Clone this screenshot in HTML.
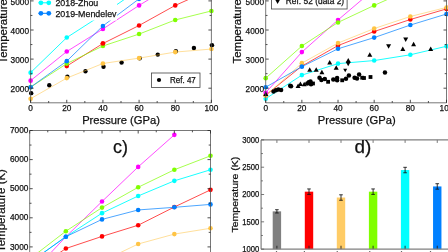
<!DOCTYPE html>
<html><head><meta charset="utf-8"><title>figure</title>
<style>
html,body{margin:0;padding:0;background:#fff;}
body{width:448px;height:252px;overflow:hidden;}
svg{display:block;font-family:"Liberation Sans", sans-serif;fill:#111;}
text{stroke:#111;stroke-width:0.25px;}
</style></head><body>
<svg width="448" height="252" viewBox="0 0 448 252">
<defs>
<clipPath id="clipA"><rect x="0" y="0" width="224" height="103"/></clipPath>
<clipPath id="clipB"><rect x="224" y="0" width="224" height="103"/></clipPath>
<clipPath id="clipC"><rect x="20" y="126" width="204" height="130"/></clipPath>
</defs>
<rect width="448" height="252" fill="#fff"/>
<g clip-path="url(#clipA)">
<circle cx="31.20" cy="93.15" r="2.2" fill="#000"/>
<circle cx="49.28" cy="85.29" r="2.2" fill="#000"/>
<circle cx="67.36" cy="76.71" r="2.2" fill="#000"/>
<circle cx="85.44" cy="71.32" r="2.2" fill="#000"/>
<circle cx="103.52" cy="66.81" r="2.2" fill="#000"/>
<circle cx="121.60" cy="62.59" r="2.2" fill="#000"/>
<circle cx="139.68" cy="58.23" r="2.2" fill="#000"/>
<circle cx="157.76" cy="54.59" r="2.2" fill="#000"/>
<circle cx="175.84" cy="51.24" r="2.2" fill="#000"/>
<circle cx="193.92" cy="48.04" r="2.2" fill="#000"/>
<circle cx="212.00" cy="45.13" r="2.2" fill="#000"/>
<polyline points="30.60,98.68 66.76,78.10 102.92,63.49 139.08,58.11 175.24,52.09 211.40,49.06" fill="none" stroke="#ffc445" stroke-width="0.9" stroke-opacity="0.6"/>
<circle cx="30.60" cy="98.68" r="2.3" fill="#ffc445"/>
<circle cx="66.76" cy="78.10" r="2.3" fill="#ffc445"/>
<circle cx="102.92" cy="63.49" r="2.3" fill="#ffc445"/>
<circle cx="139.08" cy="58.11" r="2.3" fill="#ffc445"/>
<circle cx="175.24" cy="52.09" r="2.3" fill="#ffc445"/>
<circle cx="211.40" cy="49.06" r="2.3" fill="#ffc445"/>
<polyline points="66.76,66.08 102.92,43.53 139.08,25.49 175.24,5.41 211.40,-10.74" fill="none" stroke="#ff0000" stroke-width="0.9" stroke-opacity="0.78"/>
<circle cx="66.76" cy="66.08" r="2.3" fill="#ff0000"/>
<circle cx="102.92" cy="43.53" r="2.3" fill="#ff0000"/>
<circle cx="139.08" cy="25.49" r="2.3" fill="#ff0000"/>
<circle cx="175.24" cy="5.41" r="2.3" fill="#ff0000"/>
<circle cx="211.40" cy="-10.74" r="2.3" fill="#ff0000"/>
<polyline points="30.60,87.18 66.76,63.61 102.92,46.01 139.08,34.07 175.24,19.96 211.40,10.94" fill="none" stroke="#80ff00" stroke-width="0.9" stroke-opacity="0.78"/>
<circle cx="30.60" cy="87.18" r="2.3" fill="#80ff00"/>
<circle cx="66.76" cy="63.61" r="2.3" fill="#80ff00"/>
<circle cx="102.92" cy="46.01" r="2.3" fill="#80ff00"/>
<circle cx="139.08" cy="34.07" r="2.3" fill="#80ff00"/>
<circle cx="175.24" cy="19.96" r="2.3" fill="#80ff00"/>
<circle cx="211.40" cy="10.94" r="2.3" fill="#80ff00"/>
<circle cx="102.92" cy="43.53" r="2.3" fill="#ff0000"/>
<polyline points="30.60,80.63 66.76,51.53 102.92,28.98 139.08,5.41 175.24,-16.56" fill="none" stroke="#ff00ff" stroke-width="0.9" stroke-opacity="0.78"/>
<circle cx="30.60" cy="80.63" r="2.3" fill="#ff00ff"/>
<circle cx="66.76" cy="51.53" r="2.3" fill="#ff00ff"/>
<circle cx="102.92" cy="28.98" r="2.3" fill="#ff00ff"/>
<circle cx="139.08" cy="5.41" r="2.3" fill="#ff00ff"/>
<circle cx="175.24" cy="-16.56" r="2.3" fill="#ff00ff"/>
<polyline points="30.60,87.18 66.76,61.14 102.92,25.93 139.08,-1.14" fill="none" stroke="#0080ff" stroke-width="0.9" stroke-opacity="0.78"/>
<circle cx="30.60" cy="87.18" r="2.3" fill="#0080ff"/>
<circle cx="66.76" cy="61.14" r="2.3" fill="#0080ff"/>
<circle cx="102.92" cy="25.93" r="2.3" fill="#0080ff"/>
<circle cx="139.08" cy="-1.14" r="2.3" fill="#0080ff"/>
<polyline points="30.60,72.63 66.76,37.57 102.92,14.29 139.08,-10.74" fill="none" stroke="#00ffff" stroke-width="0.9" stroke-opacity="1"/>
<circle cx="30.60" cy="72.63" r="2.3" fill="#00ffff"/>
<circle cx="66.76" cy="37.57" r="2.3" fill="#00ffff"/>
<circle cx="102.92" cy="14.29" r="2.3" fill="#00ffff"/>
<circle cx="139.08" cy="-10.74" r="2.3" fill="#00ffff"/>
</g>
<rect x="36" y="-5" width="81" height="25.5" fill="#fff"/>
<line x1="38.5" y1="2.8" x2="51" y2="2.8" stroke="#00ffff" stroke-width="1"/>
<circle cx="40.9" cy="2.8" r="2.4" fill="#00ffff"/><circle cx="48.8" cy="2.8" r="2.4" fill="#00ffff"/>
<text x="55.4" y="6.40" font-size="9.8" text-anchor="start"  textLength="42.90" lengthAdjust="spacingAndGlyphs">2018-Zhou</text>
<line x1="38.5" y1="13.3" x2="51" y2="13.3" stroke="#0080ff" stroke-width="1"/>
<circle cx="40.9" cy="13.3" r="2.4" fill="#0080ff"/><circle cx="48.8" cy="13.3" r="2.4" fill="#0080ff"/>
<text x="55.4" y="16.90" font-size="9.8" text-anchor="start"  textLength="61.14" lengthAdjust="spacingAndGlyphs">2019-Mendelev</text>
<path d="M30.6 -5V102.8H211.4V-5" fill="none" stroke="#555" stroke-width="0.8"/>
<path d="M30.60 102.8v-3M48.68 102.8v-1.8M66.76 102.8v-3M84.84 102.8v-1.8M102.92 102.8v-3M121.00 102.8v-1.8M139.08 102.8v-3M157.16 102.8v-1.8M175.24 102.8v-3M193.32 102.8v-1.8M211.40 102.8v-3M30.6 88.20h3M211.4 88.20h-3M30.6 73.65h1.8M211.4 73.65h-1.8M30.6 59.10h3M211.4 59.10h-3M30.6 44.55h1.8M211.4 44.55h-1.8M30.6 30.00h3M211.4 30.00h-3M30.6 15.45h1.8M211.4 15.45h-1.8M30.6 0.90h3M211.4 0.90h-3" stroke="#222" stroke-width="0.8" fill="none"/>
<text x="30.60" y="110.9" font-size="9.0" text-anchor="middle"  textLength="4.61" lengthAdjust="spacingAndGlyphs">0</text>
<text x="66.76" y="110.9" font-size="9.0" text-anchor="middle"  textLength="9.21" lengthAdjust="spacingAndGlyphs">20</text>
<text x="102.92" y="110.9" font-size="9.0" text-anchor="middle"  textLength="9.21" lengthAdjust="spacingAndGlyphs">40</text>
<text x="139.08" y="110.9" font-size="9.0" text-anchor="middle"  textLength="9.21" lengthAdjust="spacingAndGlyphs">60</text>
<text x="175.24" y="110.9" font-size="9.0" text-anchor="middle"  textLength="9.21" lengthAdjust="spacingAndGlyphs">80</text>
<text x="211.40" y="110.9" font-size="9.0" text-anchor="middle"  textLength="13.82" lengthAdjust="spacingAndGlyphs">100</text>
<text x="29" y="91.80" font-size="9.0" text-anchor="end"  textLength="18.42" lengthAdjust="spacingAndGlyphs">2000</text>
<text x="29" y="62.70" font-size="9.0" text-anchor="end"  textLength="18.42" lengthAdjust="spacingAndGlyphs">3000</text>
<text x="29" y="33.60" font-size="9.0" text-anchor="end"  textLength="18.42" lengthAdjust="spacingAndGlyphs">4000</text>
<text x="29" y="4.50" font-size="9.0" text-anchor="end"  textLength="18.42" lengthAdjust="spacingAndGlyphs">5000</text>
<text x="121.1" y="124.1" font-size="11.5" text-anchor="middle"  textLength="77.89" lengthAdjust="spacingAndGlyphs">Pressure (GPa)</text>
<text transform="translate(6.6,63.5) rotate(-90) scale(1,0.92)" font-size="11.5">Temperature (K)</text>
<rect x="151.5" y="73" width="48.5" height="14.5" fill="#fff" stroke="#444" stroke-width="0.8"/>
<circle cx="159" cy="80" r="2.1" fill="#000"/>
<text x="170" y="83.2" font-size="8.7" text-anchor="start" textLength="25.8" lengthAdjust="spacingAndGlyphs">Ref. 47</text>
<g clip-path="url(#clipB)">
<polyline points="265.70,98.68 301.86,75.11 338.02,63.61 374.18,60.56 410.34,54.79 446.50,46.27" fill="none" stroke="#00ffff" stroke-width="0.9" stroke-opacity="1"/>
<circle cx="265.70" cy="98.68" r="2.3" fill="#00ffff"/>
<circle cx="301.86" cy="75.11" r="2.3" fill="#00ffff"/>
<circle cx="338.02" cy="63.61" r="2.3" fill="#00ffff"/>
<circle cx="374.18" cy="60.56" r="2.3" fill="#00ffff"/>
<circle cx="410.34" cy="54.79" r="2.3" fill="#00ffff"/>
<circle cx="446.50" cy="46.27" r="2.3" fill="#00ffff"/>
<polyline points="265.70,95.18 301.86,66.08 338.02,45.57 374.18,31.51 410.34,19.52 446.50,8.90" fill="none" stroke="#ff0000" stroke-width="0.9" stroke-opacity="0.78"/>
<circle cx="265.70" cy="95.18" r="2.3" fill="#ff0000"/>
<circle cx="301.86" cy="66.08" r="2.3" fill="#ff0000"/>
<circle cx="338.02" cy="45.57" r="2.3" fill="#ff0000"/>
<circle cx="374.18" cy="31.51" r="2.3" fill="#ff0000"/>
<circle cx="410.34" cy="19.52" r="2.3" fill="#ff0000"/>
<circle cx="446.50" cy="8.90" r="2.3" fill="#ff0000"/>
<polyline points="265.70,95.77 301.86,63.17 338.02,43.09 374.18,28.55 410.34,16.47 446.50,7.45" fill="none" stroke="#ffc445" stroke-width="0.9" stroke-opacity="0.6"/>
<circle cx="265.70" cy="95.77" r="2.3" fill="#ffc445"/>
<circle cx="301.86" cy="63.17" r="2.3" fill="#ffc445"/>
<circle cx="338.02" cy="43.09" r="2.3" fill="#ffc445"/>
<circle cx="374.18" cy="28.55" r="2.3" fill="#ffc445"/>
<circle cx="410.34" cy="16.47" r="2.3" fill="#ffc445"/>
<circle cx="446.50" cy="7.45" r="2.3" fill="#ffc445"/>
<polyline points="265.70,87.18 301.86,66.67 338.02,48.77 374.18,37.60 410.34,25.05 446.50,14.00" fill="none" stroke="#0080ff" stroke-width="0.9" stroke-opacity="0.78"/>
<circle cx="265.70" cy="87.18" r="2.3" fill="#0080ff"/>
<circle cx="301.86" cy="66.67" r="2.3" fill="#0080ff"/>
<circle cx="338.02" cy="48.77" r="2.3" fill="#0080ff"/>
<circle cx="374.18" cy="37.60" r="2.3" fill="#0080ff"/>
<circle cx="410.34" cy="25.05" r="2.3" fill="#0080ff"/>
<circle cx="446.50" cy="14.00" r="2.3" fill="#0080ff"/>
<polyline points="265.70,92.71 301.86,52.12 338.02,19.96 374.18,-10.74" fill="none" stroke="#ff00ff" stroke-width="0.9" stroke-opacity="0.78"/>
<circle cx="265.70" cy="92.71" r="2.3" fill="#ff00ff"/>
<circle cx="301.86" cy="52.12" r="2.3" fill="#ff00ff"/>
<circle cx="338.02" cy="19.96" r="2.3" fill="#ff00ff"/>
<circle cx="374.18" cy="-10.74" r="2.3" fill="#ff00ff"/>
<polyline points="265.70,78.16 301.86,46.01 338.02,22.43 374.18,5.41 410.34,-10.74" fill="none" stroke="#80ff00" stroke-width="0.9" stroke-opacity="0.78"/>
<circle cx="265.70" cy="78.16" r="2.3" fill="#80ff00"/>
<circle cx="301.86" cy="46.01" r="2.3" fill="#80ff00"/>
<circle cx="338.02" cy="22.43" r="2.3" fill="#80ff00"/>
<circle cx="374.18" cy="5.41" r="2.3" fill="#80ff00"/>
<circle cx="410.34" cy="-10.74" r="2.3" fill="#80ff00"/>
</g>
<path d="M307.20 71.80L312.20 71.80L309.70 67.30Z" fill="#000"/>
<path d="M313.70 71.80L318.70 71.80L316.20 67.30Z" fill="#000"/>
<path d="M319.40 74.30L324.40 74.30L321.90 69.80Z" fill="#000"/>
<path d="M327.20 64.50L332.20 64.50L329.70 60.00Z" fill="#000"/>
<path d="M333.70 69.70L338.70 69.70L336.20 65.20Z" fill="#000"/>
<path d="M367.30 56.80L372.30 56.80L369.80 52.30Z" fill="#000"/>
<path d="M345.75 62.50L350.75 62.50L348.25 58.00Z" fill="#000"/>
<path d="M411.10 46.20L416.10 46.20L413.60 41.70Z" fill="#000"/>
<path d="M400.30 51.00L405.30 51.00L402.80 46.50Z" fill="#000"/>
<path d="M428.20 51.00L433.20 51.00L430.70 46.50Z" fill="#000"/>
<path d="M295.60 88.00L300.60 88.00L298.10 83.50Z" fill="#000"/>
<path d="M297.90 86.00L302.90 86.00L300.40 81.50Z" fill="#000"/>
<path d="M301.70 86.30L306.70 86.30L304.20 81.80Z" fill="#000"/>
<path d="M263.30 96.00L268.30 96.00L265.80 91.50Z" fill="#000"/>
<path d="M386.10 44.25L391.10 44.25L388.60 48.75Z" fill="#000"/>
<path d="M403.20 37.50L408.20 37.50L405.70 42.00Z" fill="#000"/>
<path d="M345.70 61.70L350.70 61.70L348.20 66.20Z" fill="#000"/>
<path d="M343.20 68.70L347.20 68.70L345.20 72.30Z" fill="#000"/>
<circle cx="273.50" cy="91.40" r="2.25" fill="#000"/>
<circle cx="275.90" cy="90.20" r="2.25" fill="#000"/>
<circle cx="278.30" cy="89.60" r="2.25" fill="#000"/>
<circle cx="281.10" cy="89.90" r="2.25" fill="#000"/>
<circle cx="290.20" cy="85.70" r="2.25" fill="#000"/>
<circle cx="291.00" cy="86.30" r="2.25" fill="#000"/>
<circle cx="307.30" cy="83.60" r="2.25" fill="#000"/>
<circle cx="310.50" cy="81.60" r="2.25" fill="#000"/>
<circle cx="311.00" cy="84.20" r="2.25" fill="#000"/>
<circle cx="308.80" cy="82.30" r="2.25" fill="#000"/>
<circle cx="319.50" cy="77.70" r="2.25" fill="#000"/>
<circle cx="321.40" cy="80.10" r="2.25" fill="#000"/>
<circle cx="324.80" cy="79.10" r="2.25" fill="#000"/>
<circle cx="333.30" cy="79.60" r="2.25" fill="#000"/>
<circle cx="337.10" cy="78.00" r="2.25" fill="#000"/>
<circle cx="337.10" cy="80.30" r="2.25" fill="#000"/>
<circle cx="346.00" cy="78.70" r="2.25" fill="#000"/>
<circle cx="348.90" cy="75.50" r="2.25" fill="#000"/>
<circle cx="354.60" cy="77.70" r="2.25" fill="#000"/>
<circle cx="357.00" cy="78.50" r="2.25" fill="#000"/>
<circle cx="359.10" cy="74.40" r="2.25" fill="#000"/>
<circle cx="384.95" cy="72.50" r="2.25" fill="#000"/>
<rect x="311.10" y="81.60" width="3.8" height="3.8" fill="#000"/>
<rect x="326.20" y="79.90" width="3.8" height="3.8" fill="#000"/>
<rect x="340.30" y="78.40" width="3.8" height="3.8" fill="#000"/>
<rect x="360.30" y="75.80" width="3.8" height="3.8" fill="#000"/>
<rect x="368.60" y="75.10" width="3.8" height="3.8" fill="#000"/>
<rect x="362.10" y="76.10" width="3.8" height="3.8" fill="#000"/>
<path d="M265.7 -5V102.8H446.5V-5" fill="none" stroke="#555" stroke-width="0.8"/>
<path d="M265.70 102.8v-3M283.78 102.8v-1.8M301.86 102.8v-3M319.94 102.8v-1.8M338.02 102.8v-3M356.10 102.8v-1.8M374.18 102.8v-3M392.26 102.8v-1.8M410.34 102.8v-3M428.42 102.8v-1.8M446.50 102.8v-3M265.7 88.20h3M446.5 88.20h-3M265.7 73.65h1.8M446.5 73.65h-1.8M265.7 59.10h3M446.5 59.10h-3M265.7 44.55h1.8M446.5 44.55h-1.8M265.7 30.00h3M446.5 30.00h-3M265.7 15.45h1.8M446.5 15.45h-1.8M265.7 0.90h3M446.5 0.90h-3" stroke="#222" stroke-width="0.8" fill="none"/>
<text x="265.70" y="110.9" font-size="9.0" text-anchor="middle"  textLength="4.61" lengthAdjust="spacingAndGlyphs">0</text>
<text x="301.86" y="110.9" font-size="9.0" text-anchor="middle"  textLength="9.21" lengthAdjust="spacingAndGlyphs">20</text>
<text x="338.02" y="110.9" font-size="9.0" text-anchor="middle"  textLength="9.21" lengthAdjust="spacingAndGlyphs">40</text>
<text x="374.18" y="110.9" font-size="9.0" text-anchor="middle"  textLength="9.21" lengthAdjust="spacingAndGlyphs">60</text>
<text x="410.34" y="110.9" font-size="9.0" text-anchor="middle"  textLength="9.21" lengthAdjust="spacingAndGlyphs">80</text>
<text x="446.50" y="110.9" font-size="9.0" text-anchor="middle"  textLength="13.82" lengthAdjust="spacingAndGlyphs">100</text>
<text x="264" y="91.80" font-size="9.0" text-anchor="end"  textLength="18.42" lengthAdjust="spacingAndGlyphs">2000</text>
<text x="264" y="62.70" font-size="9.0" text-anchor="end"  textLength="18.42" lengthAdjust="spacingAndGlyphs">3000</text>
<text x="264" y="33.60" font-size="9.0" text-anchor="end"  textLength="18.42" lengthAdjust="spacingAndGlyphs">4000</text>
<text x="264" y="4.50" font-size="9.0" text-anchor="end"  textLength="18.42" lengthAdjust="spacingAndGlyphs">5000</text>
<text x="356.7" y="124.1" font-size="11.5" text-anchor="middle"  textLength="77.89" lengthAdjust="spacingAndGlyphs">Pressure (GPa)</text>
<text transform="translate(241,63.5) rotate(-90) scale(1,0.92)" font-size="11.5">Temperature (K)</text>
<rect x="271.5" y="-10" width="75.6" height="19" fill="#fff" stroke="#444" stroke-width="0.8"/>
<path d="M275.20 -0.32L280.00 -0.32L277.60 4.00Z" fill="#000"/>
<text x="285.8" y="3.8" font-size="8.6" text-anchor="start" textLength="58.3" lengthAdjust="spacingAndGlyphs">Ref. 52 (data 2)</text>
<g clip-path="url(#clipC)">
<polyline points="102.02,261.45 138.18,243.99 174.34,234.10 210.50,228.28" fill="none" stroke="#ffc445" stroke-width="0.9" stroke-opacity="0.6"/>
<circle cx="102.02" cy="261.45" r="2.3" fill="#ffc445"/>
<circle cx="138.18" cy="243.99" r="2.3" fill="#ffc445"/>
<circle cx="174.34" cy="234.10" r="2.3" fill="#ffc445"/>
<circle cx="210.50" cy="228.28" r="2.3" fill="#ffc445"/>
<polyline points="29.70,273.09 65.86,248.50 102.02,236.42 138.18,225.22 174.34,207.03 210.50,189.86" fill="none" stroke="#ff0000" stroke-width="0.9" stroke-opacity="0.78"/>
<circle cx="29.70" cy="273.09" r="2.3" fill="#ff0000"/>
<circle cx="65.86" cy="248.50" r="2.3" fill="#ff0000"/>
<circle cx="102.02" cy="236.42" r="2.3" fill="#ff0000"/>
<circle cx="138.18" cy="225.22" r="2.3" fill="#ff0000"/>
<circle cx="174.34" cy="207.03" r="2.3" fill="#ff0000"/>
<circle cx="210.50" cy="189.86" r="2.3" fill="#ff0000"/>
<polyline points="29.70,275.19 65.86,236.72 102.02,201.50 138.18,166.88 174.34,134.87" fill="none" stroke="#ff00ff" stroke-width="0.9" stroke-opacity="0.78"/>
<circle cx="29.70" cy="275.19" r="2.3" fill="#ff00ff"/>
<circle cx="65.86" cy="236.72" r="2.3" fill="#ff00ff"/>
<circle cx="102.02" cy="201.50" r="2.3" fill="#ff00ff"/>
<circle cx="138.18" cy="166.88" r="2.3" fill="#ff00ff"/>
<circle cx="174.34" cy="134.87" r="2.3" fill="#ff00ff"/>
<polyline points="29.70,262.61 65.86,236.72 102.02,213.14 138.18,195.98 174.34,180.84 210.50,169.78" fill="none" stroke="#00ffff" stroke-width="0.9" stroke-opacity="1"/>
<circle cx="29.70" cy="262.61" r="2.3" fill="#00ffff"/>
<circle cx="65.86" cy="236.72" r="2.3" fill="#00ffff"/>
<circle cx="102.02" cy="213.14" r="2.3" fill="#00ffff"/>
<circle cx="138.18" cy="195.98" r="2.3" fill="#00ffff"/>
<circle cx="174.34" cy="180.84" r="2.3" fill="#00ffff"/>
<circle cx="210.50" cy="169.78" r="2.3" fill="#00ffff"/>
<polyline points="29.70,262.61 65.86,236.72 102.02,219.40 138.18,209.94 174.34,207.32 210.50,204.41" fill="none" stroke="#0080ff" stroke-width="0.9" stroke-opacity="0.78"/>
<circle cx="29.70" cy="262.61" r="2.3" fill="#0080ff"/>
<circle cx="65.86" cy="236.72" r="2.3" fill="#0080ff"/>
<circle cx="102.02" cy="219.40" r="2.3" fill="#0080ff"/>
<circle cx="138.18" cy="209.94" r="2.3" fill="#0080ff"/>
<circle cx="174.34" cy="207.32" r="2.3" fill="#0080ff"/>
<circle cx="210.50" cy="204.41" r="2.3" fill="#0080ff"/>
<polyline points="29.70,259.01 65.86,231.19 102.02,207.62 138.18,187.25 174.34,169.78 210.50,155.82" fill="none" stroke="#80ff00" stroke-width="0.9" stroke-opacity="0.78"/>
<circle cx="29.70" cy="259.01" r="2.3" fill="#80ff00"/>
<circle cx="65.86" cy="231.19" r="2.3" fill="#80ff00"/>
<circle cx="102.02" cy="207.62" r="2.3" fill="#80ff00"/>
<circle cx="138.18" cy="187.25" r="2.3" fill="#80ff00"/>
<circle cx="174.34" cy="169.78" r="2.3" fill="#80ff00"/>
<circle cx="210.50" cy="155.82" r="2.3" fill="#80ff00"/>
</g>
<path d="M29.7 260V130.5H210.5V260" fill="none" stroke="#555" stroke-width="0.8"/>
<path d="M29.70 130.5v3M47.78 130.5v1.8M65.86 130.5v3M83.94 130.5v1.8M102.02 130.5v3M120.10 130.5v1.8M138.18 130.5v3M156.26 130.5v1.8M174.34 130.5v3M192.42 130.5v1.8M210.50 130.5v3M29.7 261.45h1.8M210.5 261.45h-1.8M29.7 246.90h3M210.5 246.90h-3M29.7 232.35h1.8M210.5 232.35h-1.8M29.7 217.80h3M210.5 217.80h-3M29.7 203.25h1.8M210.5 203.25h-1.8M29.7 188.70h3M210.5 188.70h-3M29.7 174.15h1.8M210.5 174.15h-1.8M29.7 159.60h3M210.5 159.60h-3M29.7 145.05h1.8M210.5 145.05h-1.8M29.7 130.50h3M210.5 130.50h-3" stroke="#222" stroke-width="0.8" fill="none"/>
<text x="28.4" y="249.50" font-size="9.0" text-anchor="end"  textLength="18.42" lengthAdjust="spacingAndGlyphs">3000</text>
<text x="28.4" y="220.40" font-size="9.0" text-anchor="end"  textLength="18.42" lengthAdjust="spacingAndGlyphs">4000</text>
<text x="28.4" y="191.30" font-size="9.0" text-anchor="end"  textLength="18.42" lengthAdjust="spacingAndGlyphs">5000</text>
<text x="28.4" y="162.20" font-size="9.0" text-anchor="end"  textLength="18.42" lengthAdjust="spacingAndGlyphs">6000</text>
<text x="28.4" y="133.10" font-size="9.0" text-anchor="end"  textLength="18.42" lengthAdjust="spacingAndGlyphs">7000</text>
<text transform="translate(5.1,252.0) rotate(-90) scale(1,0.92)" font-size="11.5">Temperature (K)</text>
<text x="112.9" y="152.6" font-size="18" text-anchor="start"  textLength="14.99" lengthAdjust="spacingAndGlyphs">c)</text>
<rect x="272.70" y="211.35" width="8.4" height="37.80" fill="#808080"/>
<path d="M276.90 209.71V212.99M275.10 209.71h3.6M275.10 212.99h3.6" stroke="#111" stroke-width="0.85" fill="none"/>
<path d="M276.90 249.15v-3.4" stroke="#222" stroke-width="0.9" fill="none"/><path d="M276.90 139.9v3" stroke="#555" stroke-width="0.8" fill="none"/>
<rect x="304.80" y="191.68" width="8.4" height="57.47" fill="#ff0000"/>
<path d="M309.00 188.95V194.42M307.20 188.95h3.6M307.20 194.42h3.6" stroke="#111" stroke-width="0.85" fill="none"/>
<path d="M309.00 249.15v-3.4" stroke="#222" stroke-width="0.9" fill="none"/><path d="M309.00 139.9v3" stroke="#555" stroke-width="0.8" fill="none"/>
<rect x="336.80" y="197.53" width="8.4" height="51.62" fill="#ffcc66"/>
<path d="M341.00 194.80V200.26M339.20 194.80h3.6M339.20 200.26h3.6" stroke="#111" stroke-width="0.85" fill="none"/>
<path d="M341.00 249.15v-3.4" stroke="#222" stroke-width="0.9" fill="none"/><path d="M341.00 139.9v3" stroke="#555" stroke-width="0.8" fill="none"/>
<rect x="368.90" y="191.68" width="8.4" height="57.47" fill="#80ff00"/>
<path d="M373.10 188.95V194.42M371.30 188.95h3.6M371.30 194.42h3.6" stroke="#111" stroke-width="0.85" fill="none"/>
<path d="M373.10 249.15v-3.4" stroke="#222" stroke-width="0.9" fill="none"/><path d="M373.10 139.9v3" stroke="#555" stroke-width="0.8" fill="none"/>
<rect x="400.90" y="170.05" width="8.4" height="79.10" fill="#00ffff"/>
<path d="M405.10 167.32V172.78M403.30 167.32h3.6M403.30 172.78h3.6" stroke="#111" stroke-width="0.85" fill="none"/>
<path d="M405.10 249.15v-3.4" stroke="#222" stroke-width="0.9" fill="none"/><path d="M405.10 139.9v3" stroke="#555" stroke-width="0.8" fill="none"/>
<rect x="433.05" y="186.44" width="8.4" height="62.71" fill="#0080ff"/>
<path d="M437.25 183.71V189.17M435.45 183.71h3.6M435.45 189.17h3.6" stroke="#111" stroke-width="0.85" fill="none"/>
<path d="M437.25 249.15v-3.4" stroke="#222" stroke-width="0.9" fill="none"/><path d="M437.25 139.9v3" stroke="#555" stroke-width="0.8" fill="none"/>
<rect x="275.90" y="251.2" width="1.2" height="1" fill="#444"/>
<rect x="303.80" y="251.2" width="1.2" height="1" fill="#444"/>
<rect x="336.65" y="251.2" width="1.2" height="1" fill="#444"/>
<rect x="369.15" y="251.2" width="1.2" height="1" fill="#444"/>
<rect x="400.90" y="251.2" width="1.2" height="1" fill="#444"/>
<rect x="429.90" y="251.2" width="1.2" height="1" fill="#444"/>
<path d="M261.1 139.9H460M261.1 249.15H460M261.1 139.9V249.15" fill="none" stroke="#808080" stroke-width="1.2"/>
<path d="M261.1 249.15h3M261.1 235.49h1.8M261.1 221.84h3M261.1 208.18h1.8M261.1 194.53h3M261.1 180.87h1.8M261.1 167.21h3M261.1 153.56h1.8M261.1 139.90h3" stroke="#555" stroke-width="0.8" fill="none"/>
<text x="259.3" y="252.05" font-size="8.3" text-anchor="end"  textLength="16.99" lengthAdjust="spacingAndGlyphs">1000</text>
<text x="259.3" y="224.74" font-size="8.3" text-anchor="end"  textLength="16.99" lengthAdjust="spacingAndGlyphs">1500</text>
<text x="259.3" y="197.43" font-size="8.3" text-anchor="end"  textLength="16.99" lengthAdjust="spacingAndGlyphs">2000</text>
<text x="259.3" y="170.11" font-size="8.3" text-anchor="end"  textLength="16.99" lengthAdjust="spacingAndGlyphs">2500</text>
<text x="259.3" y="142.80" font-size="8.3" text-anchor="end"  textLength="16.99" lengthAdjust="spacingAndGlyphs">3000</text>
<text transform="translate(238.3,232.5) rotate(-90) scale(1,0.94)" font-size="10.5">Temperature (K)</text>
<text x="354.6" y="152.5" font-size="18" text-anchor="start"  textLength="16.81" lengthAdjust="spacingAndGlyphs">d)</text>
</svg>
</body></html>
